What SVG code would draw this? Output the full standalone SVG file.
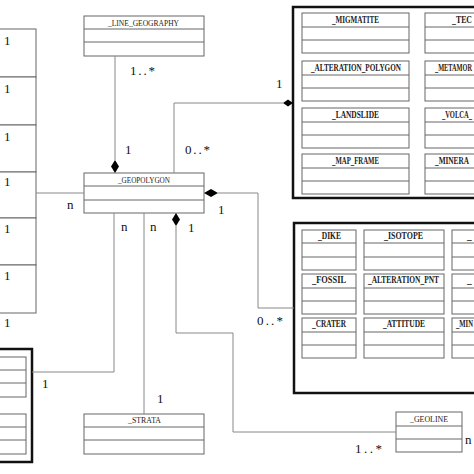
<svg xmlns="http://www.w3.org/2000/svg" width="474" height="474" viewBox="0 0 474 474">
<style>
.bx{fill:#fff;stroke:#666;stroke-width:1}
.dv{stroke:#666;stroke-width:1}
.fr{fill:none;stroke:#111;stroke-width:2.5}
.cn{fill:none;stroke:#888;stroke-width:1}
.dm{fill:#000}
.t{font-family:"Liberation Serif","Noto Serif CJK SC",serif;font-size:9px;fill:#222}
.tb{font-family:"Liberation Serif","Noto Serif CJK SC",serif;font-size:9.5px;fill:#222;font-weight:bold}
.lb{font-family:"Liberation Serif","Noto Serif CJK SC",serif;font-size:13px;fill:#111}
</style>
<rect width="474" height="474" fill="#fff"/>

<g id="left-column">
<rect class="bx" x="-2" y="29" width="38" height="48"/>
<rect class="bx" x="-2" y="77" width="38" height="48"/>
<rect class="bx" x="-2" y="125" width="38" height="47"/>
<rect class="bx" x="-2" y="172" width="38" height="46"/>
<rect class="bx" x="-2" y="218" width="38" height="47"/>
<rect class="bx" x="-2" y="265" width="38" height="48"/>
</g>

<g id="line_geography">
<rect class="bx" x="84" y="16" width="120" height="40"/>
<line class="dv" x1="84" y1="29" x2="204" y2="29"/>
<line class="dv" x1="84" y1="42" x2="204" y2="42"/>
<text class="t" x="108" y="26" textLength="71" lengthAdjust="spacingAndGlyphs">_LINE_GEOGRAPHY</text>
</g>

<g id="geopolygon">
<rect class="bx" x="84" y="173" width="120" height="40"/>
<line class="dv" x1="84" y1="186" x2="204" y2="186"/>
<line class="dv" x1="84" y1="200" x2="204" y2="200"/>
<text class="t" x="118" y="183" textLength="52" lengthAdjust="spacingAndGlyphs">_GEOPOLYGON</text>
</g>

<g id="strata">
<rect class="bx" x="84" y="414" width="120" height="40"/>
<line class="dv" x1="84" y1="427" x2="204" y2="427"/>
<line class="dv" x1="84" y1="440" x2="204" y2="440"/>
<text class="t" x="128" y="423" textLength="33" lengthAdjust="spacingAndGlyphs">_STRATA</text>
</g>

<g id="geoline">
<rect class="bx" x="396" y="412" width="66" height="40"/>
<line class="dv" x1="396" y1="426" x2="462" y2="426"/>
<line class="dv" x1="396" y1="439" x2="462" y2="439"/>
<text class="t" x="410" y="422" textLength="38" lengthAdjust="spacingAndGlyphs">_GEOLINE</text>
</g>

<g id="group-polygons">
<rect class="fr" x="293" y="7" width="190" height="191"/>
<rect class="bx" x="302" y="13" width="107" height="40"/>
<line class="dv" x1="302" y1="27" x2="409" y2="27"/><line class="dv" x1="302" y1="40" x2="409" y2="40"/>
<text class="tb" x="332" y="23" textLength="47" lengthAdjust="spacingAndGlyphs">_MIGMATITE</text>
<rect class="bx" x="302" y="61" width="107" height="40"/>
<line class="dv" x1="302" y1="75" x2="409" y2="75"/><line class="dv" x1="302" y1="88" x2="409" y2="88"/>
<text class="tb" x="311" y="71" textLength="90" lengthAdjust="spacingAndGlyphs">_ALTERATION_POLYGON</text>
<rect class="bx" x="302" y="108" width="107" height="40"/>
<line class="dv" x1="302" y1="122" x2="409" y2="122"/><line class="dv" x1="302" y1="135" x2="409" y2="135"/>
<text class="tb" x="332" y="118" textLength="47" lengthAdjust="spacingAndGlyphs">_LANDSLIDE</text>
<rect class="bx" x="302" y="154" width="107" height="40"/>
<line class="dv" x1="302" y1="168" x2="409" y2="168"/><line class="dv" x1="302" y1="181" x2="409" y2="181"/>
<text class="tb" x="332" y="164" textLength="47" lengthAdjust="spacingAndGlyphs">_MAP_FRAME</text>

<rect class="bx" x="425" y="13" width="70" height="40"/>
<line class="dv" x1="425" y1="27" x2="495" y2="27"/><line class="dv" x1="425" y1="40" x2="495" y2="40"/>
<text class="tb" x="452" y="23" textLength="20" lengthAdjust="spacingAndGlyphs">_TEC</text>
<rect class="bx" x="425" y="61" width="70" height="40"/>
<line class="dv" x1="425" y1="75" x2="495" y2="75"/><line class="dv" x1="425" y1="88" x2="495" y2="88"/>
<text class="tb" x="435" y="71" textLength="37" lengthAdjust="spacingAndGlyphs">_METAMOR</text>
<rect class="bx" x="425" y="108" width="70" height="40"/>
<line class="dv" x1="425" y1="122" x2="495" y2="122"/><line class="dv" x1="425" y1="135" x2="495" y2="135"/>
<text class="tb" x="442" y="118" textLength="30" lengthAdjust="spacingAndGlyphs">_VOLCA_</text>
<rect class="bx" x="425" y="154" width="70" height="40"/>
<line class="dv" x1="425" y1="168" x2="495" y2="168"/><line class="dv" x1="425" y1="181" x2="495" y2="181"/>
<text class="tb" x="435" y="164" textLength="34" lengthAdjust="spacingAndGlyphs">_MINERA</text>
</g>

<g id="group-points">
<rect class="fr" x="294" y="223" width="190" height="170"/>
<rect class="bx" x="302" y="230" width="54" height="40"/>
<line class="dv" x1="302" y1="243" x2="356" y2="243"/><line class="dv" x1="302" y1="257" x2="356" y2="257"/>
<text class="tb" x="318" y="239" textLength="23" lengthAdjust="spacingAndGlyphs">_DIKE</text>
<rect class="bx" x="364" y="230" width="80" height="40"/>
<line class="dv" x1="364" y1="243" x2="444" y2="243"/><line class="dv" x1="364" y1="257" x2="444" y2="257"/>
<text class="tb" x="384" y="239" textLength="39" lengthAdjust="spacingAndGlyphs">_ISOTOPE</text>
<rect class="bx" x="452" y="230" width="40" height="40"/>
<line class="dv" x1="452" y1="243" x2="492" y2="243"/><line class="dv" x1="452" y1="257" x2="492" y2="257"/>
<text class="tb" x="467" y="239">_</text>

<rect class="bx" x="302" y="274" width="54" height="40"/>
<line class="dv" x1="302" y1="288" x2="356" y2="288"/><line class="dv" x1="302" y1="301" x2="356" y2="301"/>
<text class="tb" x="312" y="283" textLength="34" lengthAdjust="spacingAndGlyphs">_FOSSIL</text>
<rect class="bx" x="364" y="274" width="80" height="40"/>
<line class="dv" x1="364" y1="288" x2="444" y2="288"/><line class="dv" x1="364" y1="301" x2="444" y2="301"/>
<text class="tb" x="368" y="283" textLength="71" lengthAdjust="spacingAndGlyphs">_ALTERATION_PNT</text>
<rect class="bx" x="452" y="274" width="40" height="40"/>
<line class="dv" x1="452" y1="288" x2="492" y2="288"/><line class="dv" x1="452" y1="301" x2="492" y2="301"/>
<text class="tb" x="467" y="283">_</text>

<rect class="bx" x="302" y="318" width="54" height="40"/>
<line class="dv" x1="302" y1="332" x2="356" y2="332"/><line class="dv" x1="302" y1="345" x2="356" y2="345"/>
<text class="tb" x="312" y="327" textLength="34" lengthAdjust="spacingAndGlyphs">_CRATER</text>
<rect class="bx" x="364" y="318" width="80" height="40"/>
<line class="dv" x1="364" y1="332" x2="444" y2="332"/><line class="dv" x1="364" y1="345" x2="444" y2="345"/>
<text class="tb" x="383" y="327" textLength="42" lengthAdjust="spacingAndGlyphs">_ATTITUDE</text>
<rect class="bx" x="452" y="318" width="40" height="40"/>
<line class="dv" x1="452" y1="332" x2="492" y2="332"/><line class="dv" x1="452" y1="345" x2="492" y2="345"/>
<text class="tb" x="456" y="327" textLength="17" lengthAdjust="spacingAndGlyphs">_MIN</text>
</g>

<g id="group-bottom-left">
<rect class="fr" x="-10" y="349" width="42" height="113"/>
<rect class="bx" x="-2" y="357" width="28" height="40"/>
<line class="dv" x1="-2" y1="370" x2="26" y2="370"/><line class="dv" x1="-2" y1="383" x2="26" y2="383"/>
<rect class="bx" x="-2" y="414" width="28" height="40"/>
<line class="dv" x1="-2" y1="427" x2="26" y2="427"/><line class="dv" x1="-2" y1="440" x2="26" y2="440"/>
</g>

<g id="connectors">
<polyline class="cn" points="115,56 115,160"/>
<polyline class="cn" points="283,103 174,103 174,173"/>
<polyline class="cn" points="218,193 258,193 258,308 294,308"/>
<polyline class="cn" points="176,226 176,333 233,333 233,432 396,432"/>
<polyline class="cn" points="114,213 114,372 32,372"/>
<polyline class="cn" points="144,213 144,414"/>
<polyline class="cn" points="36,193 84,193"/>
<polygon class="dm" points="115,160 119,166.5 115,173 111,166.5"/>
<polygon class="dm" points="204,193 211,189 218,193 211,197"/>
<polygon class="dm" points="176,213 180,219.5 176,226 172,219.5"/>
<polygon class="dm" points="293,103 288,99.5 283,103 288,106.5"/>
</g>

<g id="labels">
<text class="lb" x="4" y="45">1</text>
<text class="lb" x="4" y="93">1</text>
<text class="lb" x="4" y="141">1</text>
<text class="lb" x="4" y="186">1</text>
<text class="lb" x="4" y="233">1</text>
<text class="lb" x="4" y="280">1</text>
<text class="lb" x="4" y="327">1</text>
<text class="lb" x="130" y="75" textLength="25" lengthAdjust="spacing">1..*</text>
<text class="lb" x="125" y="154">1</text>
<text class="lb" x="276" y="88">1</text>
<text class="lb" x="185" y="154" textLength="25" lengthAdjust="spacing">0..*</text>
<text class="lb" x="67" y="209">n</text>
<text class="lb" x="218" y="214">1</text>
<text class="lb" x="121" y="231">n</text>
<text class="lb" x="150" y="231">n</text>
<text class="lb" x="188" y="232">1</text>
<text class="lb" x="257" y="325" textLength="26" lengthAdjust="spacing">0..*</text>
<text class="lb" x="42" y="388">1</text>
<text class="lb" x="157" y="403">1</text>
<text class="lb" x="355" y="453" textLength="27" lengthAdjust="spacing">1..*</text>
<text class="lb" x="465" y="444">n</text>
</g>
</svg>
